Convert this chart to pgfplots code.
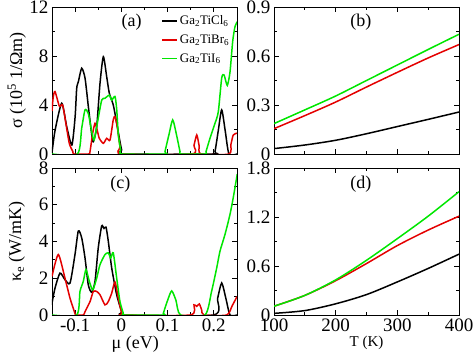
\documentclass[border=0pt]{standalone}
\usepackage{pgfplots}
\pgfplotsset{compat=1.18}
\usepackage{fontspec}
\setmainfont{Liberation Serif}
\definecolor{cR}{RGB}{228,0,0}
\definecolor{cG}{RGB}{0,230,0}
\pgfplotsset{
  every axis/.append style={
    scale only axis, width=185pt, height=147pt,
    anchor=south west,
    axis line style={line width=0.8pt},
    tick style={line width=0.8pt, black},
    major tick length=5pt, minor tick length=3pt,
    tick align=inside,
    ticklabel style={font=\fontsize{19}{19}\selectfont},
    label style={font=\fontsize{18}{18}\selectfont},
    /pgf/number format/assume math mode=true,
    clip=true,
  },
  every axis plot/.append style={line width=1.5pt, no markers},
}
\begin{document}
\begin{tikzpicture}
\useasboundingbox (0pt,0pt) rectangle (474pt,355pt);
% (a)
\begin{axis}[at={(52pt,201pt)},
  xmin=-0.15, xmax=0.25, ymin=0, ymax=12,
  xtick={-0.1,0,0.1,0.2}, xticklabels={}, minor x tick num=1,
  ytick={0,4,8,12}, yticklabels={0,4,8,12}, minor y tick num=1,
  ylabel={σ (10\textsuperscript{5} 1/Ωm)},
  ylabel style={at={(axis description cs:-0.19,0.5)}, anchor=center},
  legend style={draw=none, fill=none, at={(0.97,0.955)}, anchor=north east,
    font=\fontsize{13}{13}\selectfont, row sep=4.5pt, inner sep=0pt},
  legend cell align=left,
  legend image code/.code={\draw[#1, line width=1.5pt] (0pt,0pt) -- (15pt,0pt);},
]
\addplot[black, smooth, tension=0.4] coordinates {(-0.15,0.1) (-0.1435,1.9) (-0.129,4.14) (-0.118,2.2) (-0.107,0.73) (-0.100,3.05) (-0.0966,5.36) (-0.093,5.9) (-0.0858,7.0) (-0.0786,6.2) (-0.0715,3.9) (-0.064,1.55) (-0.0607,1.0) (-0.0534,2.2) (-0.0462,5.77) (-0.039,7.94) (-0.0317,6.3) (-0.026,4.95) (-0.0175,4.0) (-0.010,2.5) (-0.003,1.0) (0.0007,0.33) (0.004,0) (0.198,0) (0.2024,0.19) (0.2095,1.9) (0.2169,3.6) (0.2245,1.9) (0.2327,0) (0.25,0)};
\addlegendentry{Ga\textsubscript{2}TiCl\textsubscript{6}}
\addplot[cR, smooth, tension=0.4] coordinates {(-0.15,3.5) (-0.1475,4.6) (-0.1435,5.1) (-0.134,3.9) (-0.127,4.0) (-0.12,2.5) (-0.1126,0.87) (-0.105,0.2) (-0.102,0) (-0.071,0) (-0.0678,0.2) (-0.062,1.7) (-0.057,2.5) (-0.052,1.9) (-0.0477,1.28) (-0.039,0.87) (-0.0317,1.28) (-0.0246,1.14) (-0.0175,2.8) (-0.0138,3.05) (-0.0088,2.2) (-0.003,0.6) (0.0005,0) (0.152,0) (0.157,0.7) (0.163,1.55) (0.168,0.7) (0.172,0) (0.2327,0) (0.237,0.8) (0.242,1.55) (0.25,1.7)};
\addlegendentry{Ga\textsubscript{2}TiBr\textsubscript{6}}
\addplot[cG, smooth, tension=0.4] coordinates {(-0.15,0) (-0.095,0) (-0.0858,2.1) (-0.0786,3.6) (-0.0715,3.3) (-0.064,1.8) (-0.059,1.14) (-0.052,2.5) (-0.0425,4.4) (-0.0354,4.55) (-0.026,4.8) (-0.021,4.4) (-0.0138,4.7) (-0.010,3.6) (-0.0066,1.55) (-0.0015,0.33) (0.002,0) (0.0943,0) (0.0943,0.19) (0.103,1.6) (0.111,2.78) (0.119,1.6) (0.1268,0.19) (0.129,0) (0.181,0) (0.183,0.2) (0.1916,1.28) (0.2024,2.5) (0.2096,3.45) (0.2169,6.2) (0.222,6.45) (0.229,5.6) (0.2349,6.7) (0.2407,9.2) (0.2457,10.4) (0.2506,10.8)};
\addlegendentry{Ga\textsubscript{2}TiI\textsubscript{6}}
\node[font=\fontsize{18}{18}\selectfont] at (axis description cs:0.43,0.90) {(a)};
\end{axis}
% (c)
\begin{axis}[at={(52pt,40pt)},
  xmin=-0.15, xmax=0.25, ymin=0, ymax=8,
  xtick={-0.1,0,0.1,0.2}, xticklabels={-0.1,0,0.1,0.2}, minor x tick num=1,
  ytick={0,2,4,6,8}, yticklabels={0,2,4,6,8}, minor y tick num=1,
  ylabel={κ\textsubscript{e} (W/mK)},
  ylabel style={at={(axis description cs:-0.19,0.5)}, anchor=center},
  xlabel={μ (eV)},
  xlabel style={at={(axis description cs:0.45,-0.2)}, anchor=center},
]
\addplot[black, smooth, tension=0.4] coordinates {(-0.1507,0.55) (-0.1435,1.46) (-0.1327,2.28) (-0.1219,1.92) (-0.111,1.74) (-0.1003,3.29) (-0.0931,4.57) (-0.0858,4.2) (-0.0786,3.1) (-0.0715,1.64) (-0.0642,1.24) (-0.057,1.83) (-0.05,3.65) (-0.0426,4.84) (-0.0376,4.71) (-0.0332,4.78) (-0.0283,4.02) (-0.0209,2.56) (-0.0101,1.1) (0.0007,0.18) (0.0057,0) (0.1988,0) (0.208,0.9) (0.2169,1.74) (0.226,0.9) (0.2349,0) (0.25,0)};
\addplot[cR, smooth, tension=0.4] coordinates {(-0.15,2.1) (-0.1364,3.29) (-0.1219,2.0) (-0.111,0.91) (-0.1003,0.09) (-0.098,0) (-0.0823,0) (-0.0786,0.18) (-0.0678,0.73) (-0.0607,1.28) (-0.0534,1.28) (-0.0462,1.1) (-0.0354,0.55) (-0.0283,0.73) (-0.0209,1.19) (-0.0138,1.79) (-0.0066,0.91) (0.0007,0.09) (0.003,0) (0.1484,0) (0.157,0.55) (0.163,0.47) (0.1685,0.6) (0.1737,0.27) (0.1786,0) (0.2277,0) (0.2395,0.5) (0.25,1.0)};
\addplot[cG, smooth, tension=0.4] coordinates {(-0.15,0) (-0.0966,0) (-0.0895,1.28) (-0.0823,1.83) (-0.0765,2.47) (-0.0693,1.83) (-0.062,1.37) (-0.0534,2.0) (-0.0462,2.74) (-0.0354,3.29) (-0.0283,3.38) (-0.023,3.1) (-0.0175,3.38) (-0.0101,2.0) (-0.003,0.73) (0.0042,0.09) (0.006,0) (0.0907,0) (0.0907,0.09) (0.1,0.8) (0.1088,1.31) (0.118,0.8) (0.128,0) (0.1808,0) (0.195,1.28) (0.2061,2.56) (0.2132,3.47) (0.224,4.38) (0.2349,5.48) (0.242,6.4) (0.2506,7.67)};
\node[font=\fontsize{18}{18}\selectfont] at (axis description cs:0.37,0.89) {(c)};
\end{axis}
% (b)
\begin{axis}[at={(274pt,201pt)},
  xmin=100, xmax=400, ymin=0, ymax=0.9,
  xtick={100,200,300,400}, xticklabels={}, minor x tick num=1,
  ytick={0,0.3,0.6,0.9}, yticklabels={0,0.3,0.6,0.9}, minor y tick num=1,
]
\addplot[black, smooth] coordinates {(100,0.033) (150,0.055) (200,0.084) (250,0.124) (300,0.168) (350,0.212) (400,0.257)};
\addplot[cR, smooth] coordinates {(100,0.155) (150,0.235) (200,0.318) (250,0.41) (300,0.50) (350,0.588) (400,0.67)};
\addplot[cG, smooth] coordinates {(100,0.186) (150,0.27) (200,0.355) (250,0.45) (300,0.545) (350,0.64) (400,0.733)};
\node[font=\fontsize{18}{18}\selectfont] at (axis description cs:0.47,0.90) {(b)};
\end{axis}
% (d)
\begin{axis}[at={(274pt,40pt)},
  xmin=100, xmax=400, ymin=0, ymax=1.8,
  xtick={100,200,300,400}, xticklabels={100,200,300,400}, minor x tick num=1,
  ytick={0,0.6,1.2,1.8}, yticklabels={0,0.6,1.2,1.8}, minor y tick num=1,
  xlabel={T (K)},
  xlabel style={font=\fontsize{15}{15}\selectfont, at={(axis description cs:0.5,-0.19)}, anchor=center},
]
\addplot[black, smooth] coordinates {(100,0.02) (150,0.054) (200,0.137) (250,0.25) (300,0.405) (350,0.57) (400,0.745)};
\addplot[cR, smooth] coordinates {(100,0.107) (150,0.24) (200,0.42) (250,0.63) (300,0.85) (350,1.04) (400,1.21)};
\addplot[cG, smooth] coordinates {(100,0.107) (150,0.24) (200,0.43) (250,0.67) (300,0.935) (350,1.21) (400,1.51)};
\node[font=\fontsize{18}{18}\selectfont] at (axis description cs:0.47,0.89) {(d)};
\end{axis}
\end{tikzpicture}
\end{document}
